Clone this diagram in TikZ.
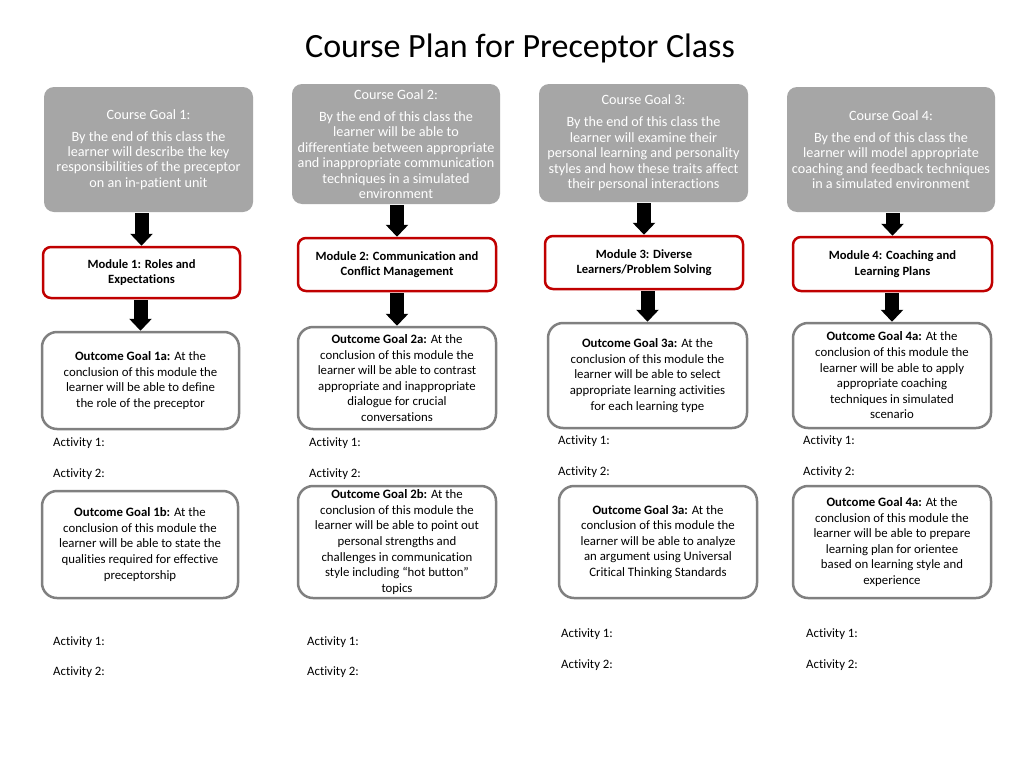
\documentclass[tikz,border=0pt]{standalone}
\usepackage{fontspec}
\setmainfont{Carlito}[Ligatures=CommonOff]
\usetikzlibrary{arrows.meta}
\definecolor{goalgray}{HTML}{A6A6A6}
\definecolor{modred}{HTML}{C00000}
\definecolor{outgray}{HTML}{808080}
\tikzset{
  bodyfont/.style={font=\fontsize{12.8}{15.6}\selectfont},
  goalbox/.style={font=\fontsize{14.2}{15.45}\selectfont, fill=goalgray, text=white, rounded corners=10pt, align=center, inner sep=0pt},
  modbox/.style={draw=modred, line width=2.5pt, fill=white, rounded corners=8pt, align=center, inner sep=0pt, font=\fontsize{12.6}{15.6}\selectfont\bfseries},
  outbox/.style={bodyfont, draw=outgray, line width=2.5pt, fill=white, rounded corners=15pt, align=center, inner sep=0pt},
  acttext/.style={bodyfont, anchor=west, inner sep=0pt},
  blockarrow/.style={line width=14pt, -{Triangle[width=22pt,length=12pt]}, shorten <=1pt},
}
\begin{document}
\begin{tikzpicture}[x=1pt,y=-1pt]
\useasboundingbox[fill=white] (0,0) rectangle (1024,768);
\node[font=\fontsize{34}{40}\selectfont, anchor=base] (title) at (520,57) {Course Plan for Preceptor Class};

% Course goals
\node[goalbox, minimum width=209pt, minimum height=125pt] (g1) at (148.5,149.5)
 {Course Goal 1:\\[6.5pt] By the end of this class the\\ learner will describe the key\\ responsibilities of the preceptor\\ on an in-patient unit};
\node[goalbox, minimum width=208pt, minimum height=120pt] (g2) at (396,144)
 {Course Goal 2:\\[6.5pt] By the end of this class the\\ learner will be able to\\ differentiate between appropriate\\ and inappropriate communication\\ techniques in a simulated\\ environment};
\node[goalbox, minimum width=209pt, minimum height=118pt] (g3) at (643.5,143)
 {Course Goal 3:\\[6.5pt] By the end of this class the\\ learner will examine their\\ personal learning and personality\\ styles and how these traits affect\\ their personal interactions};
\node[goalbox, minimum width=208pt, minimum height=125pt] (g4) at (891,149.5)
 {Course Goal 4:\\[6.5pt] By the end of this class the\\ learner will model appropriate\\ coaching and feedback techniques\\ in a simulated environment};

% Modules
\node[modbox, minimum width=197pt, minimum height=51pt] (m1) at (141.5,272.5) {Module 1: Roles and\\ Expectations};
\node[modbox, minimum width=198pt, minimum height=53pt] (m2) at (397,264.5) {Module 2: Communication and\\ Conflict Management};
\node[modbox, minimum width=198pt, minimum height=53pt] (m3) at (644,262.5) {Module 3: Diverse\\ Learners/Problem Solving};
\node[modbox, minimum width=199pt, minimum height=54pt] (m4) at (892.5,264) {Module 4: Coaching and\\ Learning Plans};

% Outcome a
\node[outbox, minimum width=197pt, minimum height=97pt] (o1a) at (140.5,380.5)
 {\textbf{Outcome Goal 1a:} At the\\ conclusion of this module the\\ learner will be able to define\\ the role of the preceptor};
\node[outbox, minimum width=198pt, minimum height=102pt] (o2a) at (397,378)
 {\textbf{Outcome Goal 2a:} At the\\ conclusion of this module the\\ learner will be able to contrast\\ appropriate and inappropriate\\ dialogue for crucial\\ conversations};
\node[outbox, minimum width=199pt, minimum height=105pt] (o3a) at (647.5,375.5)
 {\textbf{Outcome Goal 3a:} At the\\ conclusion of this module the\\ learner will be able to select\\ appropriate learning activities\\ for each learning type};
\node[outbox, minimum width=198pt, minimum height=105pt] (o4a) at (892,375.5)
 {\textbf{Outcome Goal 4a:} At the\\ conclusion of this module the\\ learner will be able to apply\\ appropriate coaching\\ techniques in simulated\\ scenario};

% Outcome b
\node[outbox, minimum width=196pt, minimum height=107pt] (o1b) at (140,544.5)
 {\textbf{Outcome Goal 1b:} At the\\ conclusion of this module the\\ learner will be able to state the\\ qualities required for effective\\ preceptorship};
\node[outbox, minimum width=198pt, minimum height=112pt] (o2b) at (397,542)
 {\textbf{Outcome Goal 2b:} At the\\ conclusion of this module the\\ learner will be able to point out\\ personal strengths and\\ challenges in communication\\ style including “hot button”\\ topics};
\node[outbox, minimum width=198pt, minimum height=112pt] (o3b) at (658,542)
 {\textbf{Outcome Goal 3a:} At the\\ conclusion of this module the\\ learner will be able to analyze\\ an argument using Universal\\ Critical Thinking Standards};
\node[outbox, minimum width=198pt, minimum height=112pt] (o4b) at (892,542)
 {\textbf{Outcome Goal 4a:} At the\\ conclusion of this module the\\ learner will be able to prepare\\ learning plan for orientee\\ based on learning style and\\ experience};

% Activities (middle)
\node[acttext] (a1a1) at (53,443) {Activity 1:};
\node[acttext] (a1a2) at (53,474) {Activity 2:};
\node[acttext] (a2a1) at (309,443) {Activity 1:};
\node[acttext] (a2a2) at (309,474) {Activity 2:};
\node[acttext] (a3a1) at (558,441) {Activity 1:};
\node[acttext] (a3a2) at (558,472) {Activity 2:};
\node[acttext] (a4a1) at (803,441) {Activity 1:};
\node[acttext] (a4a2) at (803,472) {Activity 2:};
% Activities (bottom)
\node[acttext] (a1b1) at (53,642) {Activity 1:};
\node[acttext] (a1b2) at (53,672) {Activity 2:};
\node[acttext] (a2b1) at (307,642) {Activity 1:};
\node[acttext] (a2b2) at (307,672) {Activity 2:};
\node[acttext] (a3b1) at (561,634) {Activity 1:};
\node[acttext] (a3b2) at (561,665) {Activity 2:};
\node[acttext] (a4b1) at (806,634) {Activity 1:};
\node[acttext] (a4b2) at (806,665) {Activity 2:};

% Arrows
\draw[blockarrow] (m1.north |- g1.south) -- (m1.north);
\draw[blockarrow] (m2.north |- g2.south) -- (m2.north);
\draw[blockarrow] (m3.north |- g3.south) -- (m3.north);
\draw[blockarrow] (m4.north |- g4.south) -- (m4.north);
\draw[blockarrow] (o1a.north |- m1.south) -- (o1a.north);
\draw[blockarrow] (o2a.north |- m2.south) -- (o2a.north);
\draw[blockarrow] (o3a.north |- m3.south) -- (o3a.north);
\draw[blockarrow] (o4a.north |- m4.south) -- (o4a.north);
\end{tikzpicture}
\end{document}
